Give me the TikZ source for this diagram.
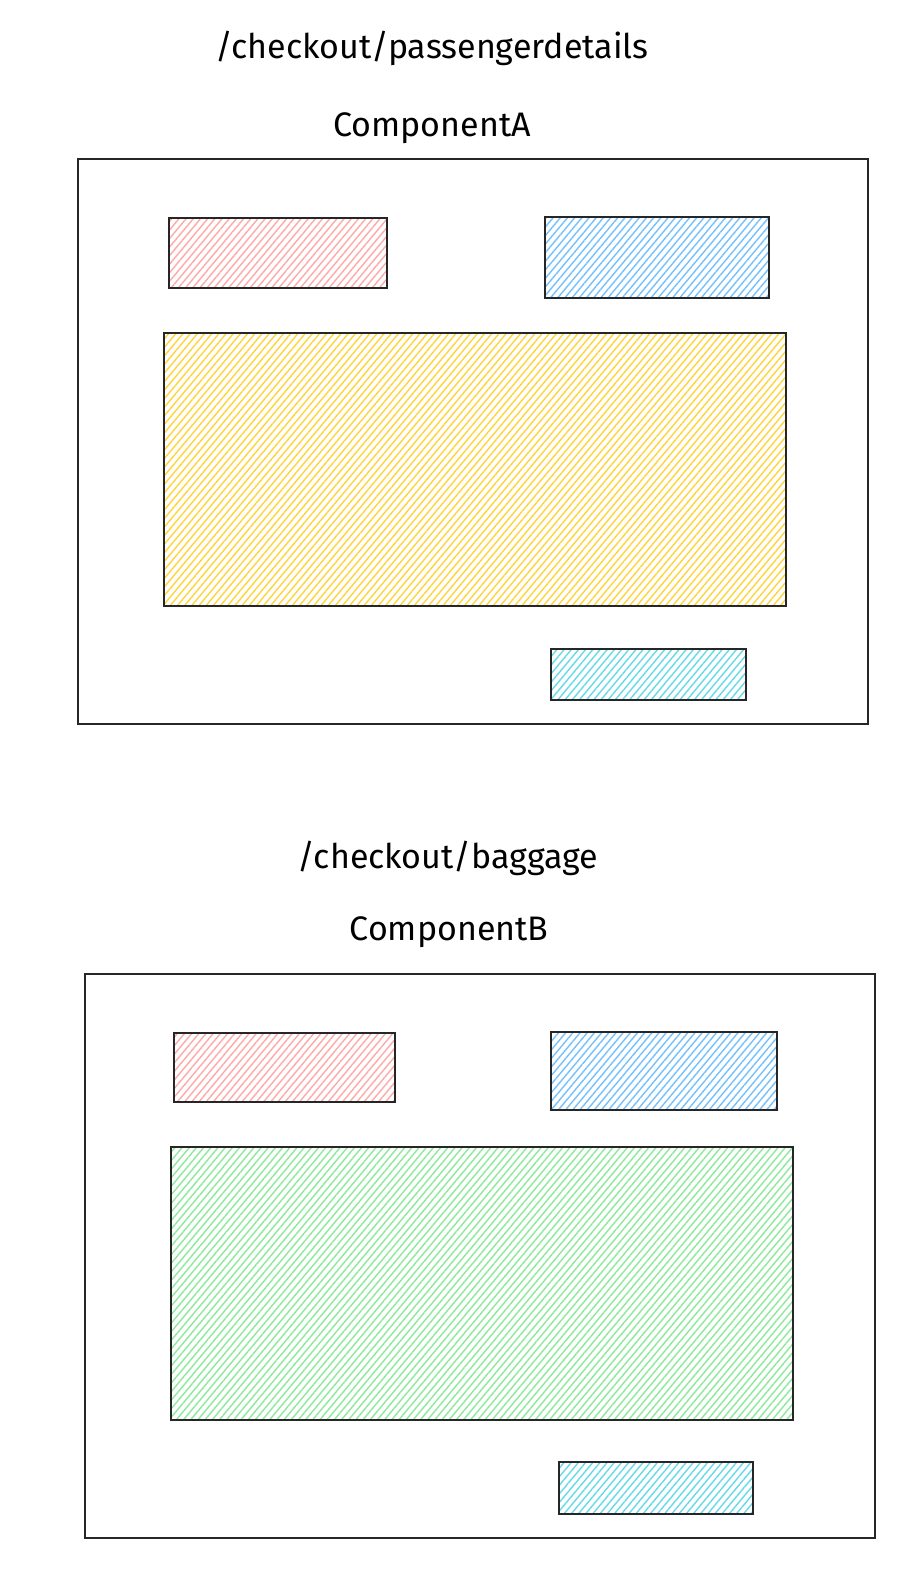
\documentclass[tikz,border=0pt]{standalone}
\usepackage{fontspec}
\setmainfont{Fira Sans}
\usetikzlibrary{patterns.meta}
\definecolor{hred}{HTML}{FFA8A8}
\definecolor{hblue}{HTML}{74C0FC}
\definecolor{hcyan}{HTML}{66D9E8}
\definecolor{hyellow}{HTML}{FFD43B}
\definecolor{hgreen}{HTML}{8CE99A}
\tikzset{
  frame/.style={draw=black!85, line width=1.3pt, rectangle, inner sep=0pt},
  hatch/.style={draw=black!85, line width=1.5pt, rectangle, inner sep=0pt,
    pattern={Lines[angle=50,distance=5.5pt,line width=1.4pt]}, pattern color=#1},
  label/.style={font=\fontsize{34}{38}\selectfont, inner sep=0pt},
}
\begin{document}
\begin{tikzpicture}[x=1pt,y=-1pt]
\useasboundingbox (0,0) rectangle (908,1570);
% Section A
\node[label] (titleA) at (432,48) {/checkout/passengerdetails};
\node[label] (compA) at (432,128) {ComponentA};
\node[frame, minimum width=790pt, minimum height=565pt] (boxA) at (473,441.5) {};
\node[hatch=hred, minimum width=218pt, minimum height=70pt] (redA) at (278,253) {};
\node[hatch=hblue, minimum width=224pt, minimum height=81pt] (blueA) at (657,257.5) {};
\node[hatch=hyellow, minimum width=622pt, minimum height=273pt] (yellowA) at (475,469.5) {};
\node[hatch=hcyan, minimum width=195pt, minimum height=51pt] (cyanA) at (648.5,674.5) {};
% Section B
\node[label] (titleB) at (448,858) {/checkout/baggage};
\node[label] (compB) at (449,932) {ComponentB};
\node[frame, minimum width=790pt, minimum height=564pt] (boxB) at (480,1256) {};
\node[hatch=hred, minimum width=221pt, minimum height=69pt] (redB) at (284.5,1067.5) {};
\node[hatch=hblue, minimum width=226pt, minimum height=78pt] (blueB) at (664,1071) {};
\node[hatch=hgreen, minimum width=622pt, minimum height=273pt] (greenB) at (482,1283.5) {};
\node[hatch=hcyan, minimum width=194pt, minimum height=52pt] (cyanB) at (656,1488) {};
\end{tikzpicture}
\end{document}
